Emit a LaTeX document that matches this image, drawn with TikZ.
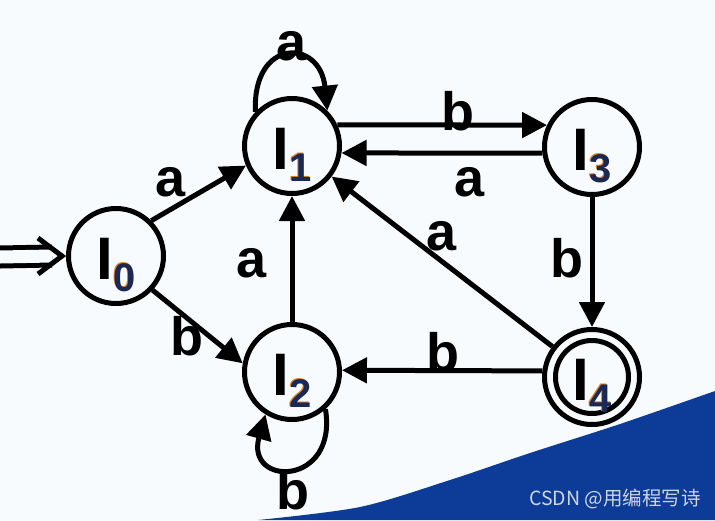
\documentclass[tikz,border=0pt]{standalone}
\usepackage{fontspec}
\setmainfont{Liberation Sans}
\newfontfamily\cjkfont{Noto Sans CJK SC}
\usetikzlibrary{arrows.meta,calc}
\definecolor{bgcol}{RGB}{248,251,253}
\definecolor{swoosh}{RGB}{13,60,152}
\definecolor{subcol}{RGB}{25,40,85}
\definecolor{subshadow}{RGB}{225,130,40}
\definecolor{wmark}{RGB}{205,212,226}
\newcommand\stlabel[1]{\raisebox{-23pt}[0pt][0pt]{\fontsize{60}{60}\selectfont\bfseries I\kern1pt\raisebox{-12pt}{\fontsize{40}{40}\selectfont\rlap{\kern-1.3pt\raisebox{0.9pt}{\color{subshadow}#1}}\color{subcol}#1}}}
\begin{document}
\begin{tikzpicture}[x=1pt,y=-1pt,
  state/.style={circle, draw, line width=5pt, minimum size=95pt, inner sep=0pt},
  edge/.style={line width=5pt, -{Triangle[length=25pt,width=25pt]}},
  lbl/.style={font=\fontsize{54}{54}\selectfont\bfseries, inner sep=0pt}]
\fill[bgcol] (0,0) rectangle (715,520);
\useasboundingbox (0,0) rectangle (715,520);
% blue swoosh
\fill[swoosh] plot[smooth] coordinates {(258,520) (360,507) (450,480) (530,453) (620,424) (715,391)} -- (715,520) -- cycle;
\node[text=wmark, font=\cjkfont\fontsize{19.5}{20}\selectfont, anchor=west, inner sep=0pt] (wm) at (529,499) {CSDN @用编程写诗};
% states
\coordinate (c4) at (592,377);
\draw[line width=5pt] (c4) circle[radius=36.5pt];
\node[state] (I0) at (116,256) {\stlabel{0}};
\node[state] (I1) at (292,146) {\stlabel{1}};
\node[state] (I3) at (592,147) {\stlabel{3}};
\node[state] (I2) at (292,372) {\stlabel{2}};
\node[state] (I4) at (c4) {\stlabel{4}};
% start arrow
\coordinate (entry) at (0,257);
\draw[line width=5pt, double=bgcol, double distance=13pt] (entry) -- ($(I0.west)+(-14,0)$);
\draw[line width=5pt, line join=miter] ($(I0.west)+(-28,-18)$) -- ($(I0.west)+(-4,0)$) -- ($(I0.west)+(-28,18)$);
% edges
\draw[edge] (I0.45) -- (I1.203);
\draw[edge] (I0.-43) -- (I2.170);
\draw[edge] (I1.137) .. controls (252,38) and (320,38) .. (I1.45);
\draw[edge] (I1.25) -- (I3.154);
\draw[edge] (I3.187) -- (I1.-8);
\draw[edge] (I3) -- (I4);
\draw[edge] (I4) -- (I1);
\draw[edge] (I4.173) -- (I2.2);
\draw[edge] (I2) -- (I1);
\draw[edge] (I2.-48) .. controls (338,487) and (245,487) .. (I2.-122);
% labels
\node[lbl] (l01) at (171,182) {a};
\node[lbl] (l02) at (187,336) {b};
\node[lbl] (l11) at (292,46) {a};
\node[lbl] (l13) at (458,111) {b};
\node[lbl] (l31) at (470,182) {a};
\node[lbl] (l41) at (442,236) {a};
\node[lbl] (l34) at (567,258) {b};
\node[lbl] (l21) at (252,263) {a};
\node[lbl] (l42) at (443,352) {b};
\node[lbl] (l22) at (293,490) {b};
\end{tikzpicture}
\end{document}
